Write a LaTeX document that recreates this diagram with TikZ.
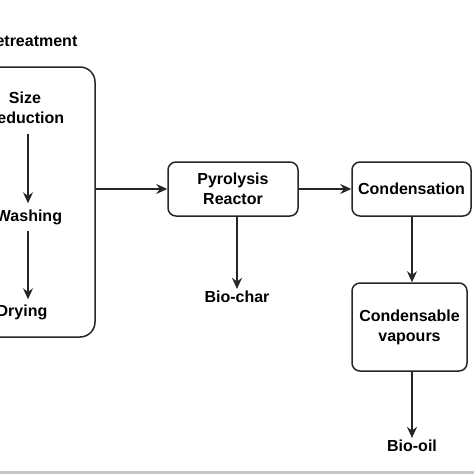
\documentclass[tikz,border=0pt]{standalone}
\usepackage{fontspec}
\setmainfont{Liberation Sans}
\usetikzlibrary{arrows.meta,positioning,calc}

\begin{document}
\begin{tikzpicture}[x=1pt,y=-1pt,
    every node/.style={font=\fontsize{16}{20}\selectfont\bfseries, align=center, inner sep=2pt},
    stage/.style={draw=black!85, line width=1.5pt, rounded corners=8pt},
    flow/.style={draw=black!85, line width=1.4pt, -{Stealth[length=11pt,width=10pt]}}]
      \useasboundingbox (0,0) rectangle (474,474);
      \fill[gray!45] (0,471) rectangle (474,474);
      % pretreatment block
      \node at (28,41) {Pretreatment};
      \node[stage, rounded corners=15pt, minimum width=125, minimum height=270] (pre) at (32.5,202) {};
      \coordinate (lane) at (28,0);
      \node (size) at (25,108) {Size\\Reduction};
      \node (wash) at (29,217) {Washing};
      \node (dry) at (22,312) {Drying};
      \draw[flow, shorten <=8pt, shorten >=4pt] (size.south -| lane) -- (wash.north -| lane);
      \draw[flow, shorten <=4pt, shorten >=3pt] (wash.south -| lane) -- (dry.north -| lane);
      % main line
      \node[stage, minimum width=130, minimum height=54] (pyro) at (233,189) {Pyrolysis\\Reactor};
      \node[stage, minimum width=119, minimum height=54] (cond) at (411.5,189) {Condensation};
      \node[stage, minimum width=115, minimum height=88] (vap) at (409.5,327) {Condensable\\vapours};
      \node (char) at (237,297) {Bio-char};
      \node (oil) at (412,446) {Bio-oil};
      \draw[flow] (pre.east |- pyro.west) -- (pyro.west);
      \draw[flow] (pyro) -- (cond);
      \draw[flow] (pyro.south -| char) -- (char);
      \draw[flow] (cond.south -| oil) -- (vap.north -| oil);
      \draw[flow] (vap.south -| oil) -- (oil);
    \end{tikzpicture}
\end{document}
